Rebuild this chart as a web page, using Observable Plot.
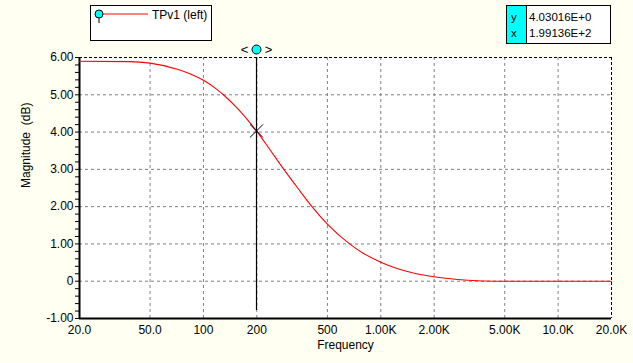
<!DOCTYPE html>
<html>
<head>
<meta charset="utf-8">
<script src="https://cdn.jsdelivr.net/npm/d3@7"></script>
<script src="https://cdn.jsdelivr.net/npm/@observablehq/plot@0.6"></script>
<style>
  html, body { margin: 0; padding: 0; background: #fffff2; }
  #wrap { position: relative; width: 633px; height: 363px; overflow: hidden; font-family: "Liberation Sans", Arial, sans-serif; }
  svg text { white-space: pre; }
  .legend { position: absolute; left: 90px; top: 5px; width: 122px; height: 36px; background: #fff; border: 1px solid #000; box-sizing: border-box; }
  .readout { position: absolute; left: 506px; top: 5px; width: 105px; height: 39px; background: #fff; border: 1px solid #000; box-sizing: border-box; font-size: 11.5px; }
  .readout .col { position: absolute; left: 0; top: 0; width: 19px; height: 100%; background: #00ffff; border-right: 1px solid #000; }
  .readout span { position: absolute; line-height: 12px; }
</style>
</head>
<body>
<div id="wrap"></div>
<script>
// ---- data ----
const freq = [20, 38, 50, 72, 84.5, 100, 119.5, 131, 155, 175, 199.136, 237.7, 284, 340, 406, 500, 675, 800, 1000, 1236, 1524, 1905, 3100, 4500, 10000, 20000];
const mag  = [5.90, 5.89, 5.85, 5.68, 5.56, 5.39, 5.14, 4.98, 4.64, 4.36, 4.03016, 3.52, 3.00, 2.50, 2.02, 1.53, 0.98, 0.745, 0.51, 0.34, 0.22, 0.135, 0.026, 0.0, 0.0, 0.0];
const xTicks = [20, 50, 100, 200, 500, 1000, 2000, 5000, 10000, 20000];
const xTickLabels = ["20.0", "50.0", "100", "200", "500", "1.00K", "2.00K", "5.00K", "10.0K", "20.0K"];
const yTicks = [-1, 0, 1, 2, 3, 4, 5, 6];
const yTickLabels = ["-1.00", "0", "1.00", "2.00", "3.00", "4.00", "5.00", "6.00"];
const xTitle = "Frequency";
const yTitle = "Magnitude  (dB)";
const seriesName = "TPv1 (left)";
const cursorX = 199.136;
const cursorY = 4.03016;
const cursorLabels = ["4.03016E+0", "1.99136E+2"];

const data = freq.map((f, i) => ({f, m: mag[i]}));
const xLab = new Map(xTicks.map((t, i) => [t, xTickLabels[i]]));
const yLab = new Map(yTicks.map((t, i) => [t, yTickLabels[i]]));
const yMinor = d3.range(-5, 31).map(i => i / 5);

const grid = {stroke: "#808080", strokeDasharray: "3,3", strokeWidth: 1};
const font = "'Liberation Sans', Arial, sans-serif";

const chart = Plot.plot({
  width: 633,
  height: 363,
  marginLeft: 79,
  marginRight: 22,
  marginTop: 57,
  marginBottom: 45,
  style: {background: "transparent", fontFamily: font, fontSize: "12px", color: "#000"},
  x: {type: "log", domain: [20, 20000], axis: null},
  y: {domain: [-1, 6], axis: null},
  marks: [
    Plot.frame({fill: "#fff", stroke: "none"}),
    Plot.ruleX(xTicks.slice(1, -1), grid),
    Plot.ruleY(yTicks.slice(1, -1), grid),
    Plot.ruleY([6], {stroke: "#000", strokeDasharray: "3,2"}),
    Plot.ruleX([20000], {stroke: "#000", strokeDasharray: "3,2"}),
    Plot.axisY(yMinor, {tickSize: 4, tickPadding: 2, tickFormat: d => yLab.get(Math.round(d * 100) / 100) ?? "", label: null, fontSize: 12}),
    Plot.text(xTicks, {x: d => d, frameAnchor: "bottom", dy: 15.5, text: d => xLab.get(d), fontSize: 12, fill: "#000", clip: false}),
    Plot.text([xTitle], {frameAnchor: "bottom", dy: 30.5, text: d => d, fontSize: 12, fill: "#000"}),
    Plot.text([yTitle], {frameAnchor: "left", dx: -53, rotate: -90, text: d => d, fontSize: 12, fill: "#000"}),
    Plot.ruleX([20], {stroke: "#000", strokeWidth: 2}),
    Plot.ruleY([-1], {stroke: "#000", strokeWidth: 2}),
    Plot.line(data, {x: "f", y: "m", stroke: "#ff0000", strokeWidth: 1.1, curve: "monotone-x"}),
    Plot.ruleX([cursorX], {y1: -1, y2: 6, stroke: "#000", strokeWidth: 1.2, insetTop: -8}),
    Plot.dot([{x: cursorX, y: cursorY}], {x: "x", y: "y", symbol: "times", r: 6, stroke: "#000", strokeWidth: 1}),
    Plot.dot([{x: cursorX, y: 6}], {x: "x", y: "y", dy: -8, r: 4.5, fill: "#00ffff", stroke: "#000", strokeWidth: 1, clip: false}),
    Plot.text([{x: cursorX, y: 6}], {x: "x", y: "y", dy: -8, dx: -12, text: () => "<", fontSize: 13, fill: "#000"}),
    Plot.text([{x: cursorX, y: 6}], {x: "x", y: "y", dy: -8, dx: 12, text: () => ">", fontSize: 13, fill: "#000"})
  ]
});
const wrap = document.getElementById("wrap");
chart.style.position = "absolute";
chart.style.left = "0";
chart.style.top = "0";
wrap.appendChild(chart);

// legend
const leg = document.createElement("div");
leg.className = "legend";
leg.innerHTML = `<svg width="122" height="36" style="position:absolute;left:0;top:0">
  <line x1="8" y1="8" x2="57" y2="8" stroke="#ff0000" stroke-width="1"/>
  <line x1="8" y1="8" x2="8" y2="17" stroke="#000" stroke-width="1"/>
  <circle cx="8" cy="8" r="4" fill="#00ffff" stroke="#000" stroke-width="1"/>
  <text x="61" y="12.5" font-size="12" font-family="${font}" fill="#000"></text>
</svg>`;
leg.querySelector("text").textContent = seriesName;
wrap.appendChild(leg);

// readout
const rd = document.createElement("div");
rd.className = "readout";
rd.innerHTML = `<div class="col"></div>
  <span style="left:4px;top:5px">y</span>
  <span style="left:4px;top:21px">x</span>
  <span style="left:22px;top:5px">${cursorLabels[0]}</span>
  <span style="left:22px;top:21px">${cursorLabels[1]}</span>`;
wrap.appendChild(rd);
</script>
</body>
</html>
